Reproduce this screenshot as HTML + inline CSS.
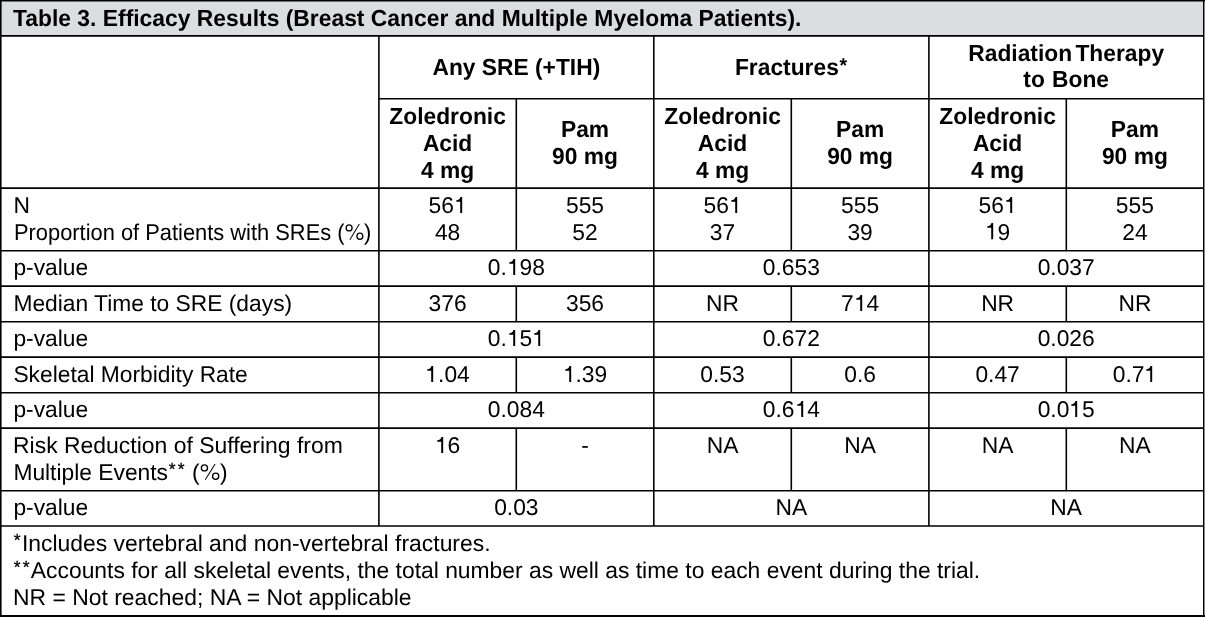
<!DOCTYPE html>
<html><head><meta charset="utf-8"><title>Table 3</title><style>
html,body{margin:0;padding:0;background:#fff;}
body{width:1205px;height:617px;position:relative;overflow:hidden;font-family:"Liberation Sans",sans-serif;color:#000;text-rendering:geometricPrecision;}
.t{position:absolute;white-space:nowrap;font-size:22.8px;line-height:27.0px;}
.b{font-weight:bold;}
.c{text-align:center;}
.one{display:inline-block;width:0.556em;height:0.709em;}
.one svg{display:block;}
.pct{display:inline-block;width:0.889em;height:0.72em;}
.pct svg{display:block;overflow:visible;}
.ab{font-size:19.5px;position:relative;top:-3.3px;left:0.6px;letter-spacing:1.3px;}
.ar{font-size:17.5px;position:relative;top:-5.1px;left:0.8px;letter-spacing:2.06px;-webkit-text-stroke:0.3px #000;}
#hd{position:absolute;left:0;top:0;width:1204px;height:36px;background:#dcdde0;}
#edge{position:absolute;left:1204px;top:0;width:1px;height:617px;background:#888;}
#grid{position:absolute;left:0;top:0;}
#w{position:absolute;left:0;top:0;width:1205px;height:617px;will-change:transform;}
</style></head><body>
<div id="w">
<div id="hd"></div>
<div id="edge"></div>
<svg id="grid" width="1205" height="617"><g stroke="#000" stroke-width="1.6" fill="none">
<line x1="0" y1="0.75" x2="1205" y2="0.75"/>
<line x1="0" y1="35.9" x2="1204" y2="35.9"/>
<line x1="378.9" y1="98.7" x2="1204" y2="98.7"/>
<line x1="0" y1="188.1" x2="1204" y2="188.1"/>
<line x1="0" y1="250.7" x2="1204" y2="250.7"/>
<line x1="0" y1="286.1" x2="1204" y2="286.1"/>
<line x1="0" y1="321.7" x2="1204" y2="321.7"/>
<line x1="0" y1="357.1" x2="1204" y2="357.1"/>
<line x1="0" y1="392.7" x2="1204" y2="392.7"/>
<line x1="0" y1="428.1" x2="1204" y2="428.1"/>
<line x1="0" y1="490.7" x2="1204" y2="490.7"/>
<line x1="0" y1="526.0" x2="1204" y2="526.0"/>
<line x1="0" y1="616" x2="1205" y2="616" stroke-width="2"/>
<line x1="0.8" y1="0" x2="0.8" y2="617"/>
<line x1="1203.5" y1="0" x2="1203.5" y2="617" stroke-width="1.0"/>
<line x1="378.9" y1="35.9" x2="378.9" y2="526.0"/>
<line x1="653.8" y1="35.9" x2="653.8" y2="526.0"/>
<line x1="928.9" y1="35.9" x2="928.9" y2="526.0"/>
<line x1="516.3" y1="98.7" x2="516.3" y2="250.7"/>
<line x1="516.3" y1="286.1" x2="516.3" y2="321.7"/>
<line x1="516.3" y1="357.1" x2="516.3" y2="392.7"/>
<line x1="516.3" y1="428.1" x2="516.3" y2="490.7"/>
<line x1="791.3" y1="98.7" x2="791.3" y2="250.7"/>
<line x1="791.3" y1="286.1" x2="791.3" y2="321.7"/>
<line x1="791.3" y1="357.1" x2="791.3" y2="392.7"/>
<line x1="791.3" y1="428.1" x2="791.3" y2="490.7"/>
<line x1="1066.3" y1="98.7" x2="1066.3" y2="250.7"/>
<line x1="1066.3" y1="286.1" x2="1066.3" y2="321.7"/>
<line x1="1066.3" y1="357.1" x2="1066.3" y2="392.7"/>
<line x1="1066.3" y1="428.1" x2="1066.3" y2="490.7"/>
</g></svg>
<div class="t b" style="left:13.40px;top:5.30px;transform:scale(1.0027,1.02);transform-origin:0 21.40px;">Table 3. Efficacy Results (Breast Cancer and Multiple Myeloma Patients).</div>
<div class="t b c" style="left:386.35px;top:54.20px;width:260.00px;transform:scale(1.0,1.02);transform-origin:50% 21.40px;">Any SRE (+TIH)</div>
<div class="t b c" style="left:661.35px;top:54.20px;width:260.00px;transform:scale(1.0,1.02);transform-origin:50% 21.40px;">Fractures<span class="ab">*</span></div>
<div class="t b c" style="left:936.20px;top:39.90px;width:260.00px;word-spacing:-3px;transform:scale(1.0,1.02);transform-origin:50% 21.40px;">Radiation Therapy</div>
<div class="t b c" style="left:936.20px;top:66.20px;width:260.00px;word-spacing:0.8px;transform:scale(1.0,1.02);transform-origin:50% 21.40px;">to Bone</div>
<div class="t b c" style="left:382.60px;top:102.80px;width:130.00px;transform:scale(1.0,1.02);transform-origin:50% 21.40px;">Zoledronic</div>
<div class="t b c" style="left:382.60px;top:130.00px;width:130.00px;transform:scale(1.0,1.02);transform-origin:50% 21.40px;">Acid</div>
<div class="t b c" style="left:382.60px;top:157.00px;width:130.00px;transform:scale(1.0,1.02);transform-origin:50% 21.40px;">4 mg</div>
<div class="t b c" style="left:520.05px;top:115.90px;width:130.00px;transform:scale(1.0,1.02);transform-origin:50% 21.40px;">Pam</div>
<div class="t b c" style="left:520.05px;top:142.80px;width:130.00px;transform:scale(1.0,1.02);transform-origin:50% 21.40px;">90 mg</div>
<div class="t b c" style="left:657.55px;top:102.80px;width:130.00px;transform:scale(1.0,1.02);transform-origin:50% 21.40px;">Zoledronic</div>
<div class="t b c" style="left:657.55px;top:130.00px;width:130.00px;transform:scale(1.0,1.02);transform-origin:50% 21.40px;">Acid</div>
<div class="t b c" style="left:657.55px;top:157.00px;width:130.00px;transform:scale(1.0,1.02);transform-origin:50% 21.40px;">4 mg</div>
<div class="t b c" style="left:795.10px;top:115.90px;width:130.00px;transform:scale(1.0,1.02);transform-origin:50% 21.40px;">Pam</div>
<div class="t b c" style="left:795.10px;top:142.80px;width:130.00px;transform:scale(1.0,1.02);transform-origin:50% 21.40px;">90 mg</div>
<div class="t b c" style="left:932.60px;top:102.80px;width:130.00px;transform:scale(1.0,1.02);transform-origin:50% 21.40px;">Zoledronic</div>
<div class="t b c" style="left:932.60px;top:130.00px;width:130.00px;transform:scale(1.0,1.02);transform-origin:50% 21.40px;">Acid</div>
<div class="t b c" style="left:932.60px;top:157.00px;width:130.00px;transform:scale(1.0,1.02);transform-origin:50% 21.40px;">4 mg</div>
<div class="t b c" style="left:1069.90px;top:115.90px;width:130.00px;transform:scale(1.0,1.02);transform-origin:50% 21.40px;">Pam</div>
<div class="t b c" style="left:1069.90px;top:142.80px;width:130.00px;transform:scale(1.0,1.02);transform-origin:50% 21.40px;">90 mg</div>
<div class="t" style="left:13.40px;top:191.90px;transform:scale(1.0,1.0);transform-origin:0 21.40px;">N</div>
<div class="t" style="left:13.90px;top:218.60px;transform:scale(0.959,1.0);transform-origin:0 21.40px;">Proportion of Patients with SREs (<span class="pct"><svg viewBox="0 0 889 720" width="100%" height="100%" preserveAspectRatio="none"><g fill="none" stroke="#000"><circle cx="195" cy="214" r="135" stroke-width="58"/><circle cx="687" cy="580" r="135" stroke-width="58"/><path d="M229 736L663 43" stroke-width="44"/></g></svg></span>)</div>
<div class="t c" style="left:382.60px;top:191.90px;width:130.00px;transform:scale(1.0,1.0);transform-origin:50% 21.40px;">56<span class="one"><svg viewBox="0 0 556 709" width="100%" height="100%" preserveAspectRatio="none"><path d="M359 709L273 709L273 204L101 204L101 142C214 138 264 90 283 0L359 0Z"/></svg></span></div>
<div class="t c" style="left:382.60px;top:218.60px;width:130.00px;transform:scale(1.0,1.0);transform-origin:50% 21.40px;">48</div>
<div class="t c" style="left:520.05px;top:191.90px;width:130.00px;transform:scale(1.0,1.0);transform-origin:50% 21.40px;">555</div>
<div class="t c" style="left:520.05px;top:218.60px;width:130.00px;transform:scale(1.0,1.0);transform-origin:50% 21.40px;">52</div>
<div class="t c" style="left:657.55px;top:191.90px;width:130.00px;transform:scale(1.0,1.0);transform-origin:50% 21.40px;">56<span class="one"><svg viewBox="0 0 556 709" width="100%" height="100%" preserveAspectRatio="none"><path d="M359 709L273 709L273 204L101 204L101 142C214 138 264 90 283 0L359 0Z"/></svg></span></div>
<div class="t c" style="left:657.55px;top:218.60px;width:130.00px;transform:scale(1.0,1.0);transform-origin:50% 21.40px;">37</div>
<div class="t c" style="left:795.10px;top:191.90px;width:130.00px;transform:scale(1.0,1.0);transform-origin:50% 21.40px;">555</div>
<div class="t c" style="left:795.10px;top:218.60px;width:130.00px;transform:scale(1.0,1.0);transform-origin:50% 21.40px;">39</div>
<div class="t c" style="left:932.60px;top:191.90px;width:130.00px;transform:scale(1.0,1.0);transform-origin:50% 21.40px;">56<span class="one"><svg viewBox="0 0 556 709" width="100%" height="100%" preserveAspectRatio="none"><path d="M359 709L273 709L273 204L101 204L101 142C214 138 264 90 283 0L359 0Z"/></svg></span></div>
<div class="t c" style="left:932.60px;top:218.60px;width:130.00px;transform:scale(1.0,1.0);transform-origin:50% 21.40px;"><span class="one"><svg viewBox="0 0 556 709" width="100%" height="100%" preserveAspectRatio="none"><path d="M359 709L273 709L273 204L101 204L101 142C214 138 264 90 283 0L359 0Z"/></svg></span>9</div>
<div class="t c" style="left:1069.90px;top:191.90px;width:130.00px;transform:scale(1.0,1.0);transform-origin:50% 21.40px;">555</div>
<div class="t c" style="left:1069.90px;top:218.60px;width:130.00px;transform:scale(1.0,1.0);transform-origin:50% 21.40px;">24</div>
<div class="t" style="left:13.40px;top:254.40px;transform:scale(1.0,1.0);transform-origin:0 21.40px;">p-value</div>
<div class="t c" style="left:381.35px;top:254.40px;width:270.00px;transform:scale(1.0,1.0);transform-origin:50% 21.40px;">0.<span class="one"><svg viewBox="0 0 556 709" width="100%" height="100%" preserveAspectRatio="none"><path d="M359 709L273 709L273 204L101 204L101 142C214 138 264 90 283 0L359 0Z"/></svg></span>98</div>
<div class="t c" style="left:656.35px;top:254.40px;width:270.00px;transform:scale(1.0,1.0);transform-origin:50% 21.40px;">0.653</div>
<div class="t c" style="left:931.20px;top:254.40px;width:270.00px;transform:scale(1.0,1.0);transform-origin:50% 21.40px;">0.037</div>
<div class="t" style="left:13.40px;top:289.90px;transform:scale(1.0,1.0);transform-origin:0 21.40px;">Median Time to SRE (days)</div>
<div class="t c" style="left:382.60px;top:289.90px;width:130.00px;transform:scale(1.0,1.0);transform-origin:50% 21.40px;">376</div>
<div class="t c" style="left:520.05px;top:289.90px;width:130.00px;transform:scale(1.0,1.0);transform-origin:50% 21.40px;">356</div>
<div class="t c" style="left:657.55px;top:289.90px;width:130.00px;transform:scale(1.0,1.0);transform-origin:50% 21.40px;">NR</div>
<div class="t c" style="left:795.10px;top:289.90px;width:130.00px;transform:scale(1.0,1.0);transform-origin:50% 21.40px;">7<span class="one"><svg viewBox="0 0 556 709" width="100%" height="100%" preserveAspectRatio="none"><path d="M359 709L273 709L273 204L101 204L101 142C214 138 264 90 283 0L359 0Z"/></svg></span>4</div>
<div class="t c" style="left:932.60px;top:289.90px;width:130.00px;transform:scale(1.0,1.0);transform-origin:50% 21.40px;">NR</div>
<div class="t c" style="left:1069.90px;top:289.90px;width:130.00px;transform:scale(1.0,1.0);transform-origin:50% 21.40px;">NR</div>
<div class="t" style="left:13.40px;top:325.40px;transform:scale(1.0,1.0);transform-origin:0 21.40px;">p-value</div>
<div class="t c" style="left:381.35px;top:325.40px;width:270.00px;transform:scale(1.0,1.0);transform-origin:50% 21.40px;">0.<span class="one"><svg viewBox="0 0 556 709" width="100%" height="100%" preserveAspectRatio="none"><path d="M359 709L273 709L273 204L101 204L101 142C214 138 264 90 283 0L359 0Z"/></svg></span>5<span class="one"><svg viewBox="0 0 556 709" width="100%" height="100%" preserveAspectRatio="none"><path d="M359 709L273 709L273 204L101 204L101 142C214 138 264 90 283 0L359 0Z"/></svg></span></div>
<div class="t c" style="left:656.35px;top:325.40px;width:270.00px;transform:scale(1.0,1.0);transform-origin:50% 21.40px;">0.672</div>
<div class="t c" style="left:931.20px;top:325.40px;width:270.00px;transform:scale(1.0,1.0);transform-origin:50% 21.40px;">0.026</div>
<div class="t" style="left:13.40px;top:360.90px;transform:scale(1.0,1.0);transform-origin:0 21.40px;">Skeletal Morbidity Rate</div>
<div class="t c" style="left:382.60px;top:360.90px;width:130.00px;transform:scale(1.0,1.0);transform-origin:50% 21.40px;"><span class="one"><svg viewBox="0 0 556 709" width="100%" height="100%" preserveAspectRatio="none"><path d="M359 709L273 709L273 204L101 204L101 142C214 138 264 90 283 0L359 0Z"/></svg></span>.04</div>
<div class="t c" style="left:520.05px;top:360.90px;width:130.00px;transform:scale(1.0,1.0);transform-origin:50% 21.40px;"><span class="one"><svg viewBox="0 0 556 709" width="100%" height="100%" preserveAspectRatio="none"><path d="M359 709L273 709L273 204L101 204L101 142C214 138 264 90 283 0L359 0Z"/></svg></span>.39</div>
<div class="t c" style="left:657.55px;top:360.90px;width:130.00px;transform:scale(1.0,1.0);transform-origin:50% 21.40px;">0.53</div>
<div class="t c" style="left:795.10px;top:360.90px;width:130.00px;transform:scale(1.0,1.0);transform-origin:50% 21.40px;">0.6</div>
<div class="t c" style="left:932.60px;top:360.90px;width:130.00px;transform:scale(1.0,1.0);transform-origin:50% 21.40px;">0.47</div>
<div class="t c" style="left:1069.90px;top:360.90px;width:130.00px;transform:scale(1.0,1.0);transform-origin:50% 21.40px;">0.7<span class="one"><svg viewBox="0 0 556 709" width="100%" height="100%" preserveAspectRatio="none"><path d="M359 709L273 709L273 204L101 204L101 142C214 138 264 90 283 0L359 0Z"/></svg></span></div>
<div class="t" style="left:13.40px;top:396.40px;transform:scale(1.0,1.0);transform-origin:0 21.40px;">p-value</div>
<div class="t c" style="left:381.35px;top:396.40px;width:270.00px;transform:scale(1.0,1.0);transform-origin:50% 21.40px;">0.084</div>
<div class="t c" style="left:656.35px;top:396.40px;width:270.00px;transform:scale(1.0,1.0);transform-origin:50% 21.40px;">0.6<span class="one"><svg viewBox="0 0 556 709" width="100%" height="100%" preserveAspectRatio="none"><path d="M359 709L273 709L273 204L101 204L101 142C214 138 264 90 283 0L359 0Z"/></svg></span>4</div>
<div class="t c" style="left:931.20px;top:396.40px;width:270.00px;transform:scale(1.0,1.0);transform-origin:50% 21.40px;">0.0<span class="one"><svg viewBox="0 0 556 709" width="100%" height="100%" preserveAspectRatio="none"><path d="M359 709L273 709L273 204L101 204L101 142C214 138 264 90 283 0L359 0Z"/></svg></span>5</div>
<div class="t" style="left:13.40px;top:431.90px;transform:scale(1.0065,1.0);transform-origin:0 21.40px;">Risk Reduction of Suffering from</div>
<div class="t" style="left:13.40px;top:458.60px;transform:scale(1.0,1.0);transform-origin:0 21.40px;">Multiple Events<span class="ar">**</span> (<span class="pct"><svg viewBox="0 0 889 720" width="100%" height="100%" preserveAspectRatio="none"><g fill="none" stroke="#000"><circle cx="195" cy="214" r="135" stroke-width="58"/><circle cx="687" cy="580" r="135" stroke-width="58"/><path d="M229 736L663 43" stroke-width="44"/></g></svg></span>)</div>
<div class="t c" style="left:382.60px;top:431.90px;width:130.00px;transform:scale(1.0,1.0);transform-origin:50% 21.40px;"><span class="one"><svg viewBox="0 0 556 709" width="100%" height="100%" preserveAspectRatio="none"><path d="M359 709L273 709L273 204L101 204L101 142C214 138 264 90 283 0L359 0Z"/></svg></span>6</div>
<div class="t c" style="left:520.05px;top:431.90px;width:130.00px;transform:scale(1.0,1.0);transform-origin:50% 21.40px;">-</div>
<div class="t c" style="left:657.55px;top:431.90px;width:130.00px;transform:scale(1.0,1.0);transform-origin:50% 21.40px;">NA</div>
<div class="t c" style="left:795.10px;top:431.90px;width:130.00px;transform:scale(1.0,1.0);transform-origin:50% 21.40px;">NA</div>
<div class="t c" style="left:932.60px;top:431.90px;width:130.00px;transform:scale(1.0,1.0);transform-origin:50% 21.40px;">NA</div>
<div class="t c" style="left:1069.90px;top:431.90px;width:130.00px;transform:scale(1.0,1.0);transform-origin:50% 21.40px;">NA</div>
<div class="t" style="left:13.40px;top:494.35px;transform:scale(1.0,1.0);transform-origin:0 21.40px;">p-value</div>
<div class="t c" style="left:381.35px;top:494.35px;width:270.00px;transform:scale(1.0,1.0);transform-origin:50% 21.40px;">0.03</div>
<div class="t c" style="left:656.35px;top:494.35px;width:270.00px;transform:scale(1.0,1.0);transform-origin:50% 21.40px;">NA</div>
<div class="t c" style="left:931.20px;top:494.35px;width:270.00px;transform:scale(1.0,1.0);transform-origin:50% 21.40px;">NA</div>
<div class="t" style="left:13.40px;top:530.30px;transform:scale(1.005,1.0);transform-origin:0 21.40px;"><span class="ar">*</span>Includes vertebral and non-vertebral fractures.</div>
<div class="t" style="left:13.40px;top:557.10px;transform:scale(1.003,1.0);transform-origin:0 21.40px;"><span class="ar">**</span>Accounts for all skeletal events, the total number as well as time to each event during the trial.</div>
<div class="t" style="left:13.40px;top:583.90px;transform:scale(1.005,1.0);transform-origin:0 21.40px;">NR = Not reached; NA = Not applicable</div>
</div>
</body></html>
